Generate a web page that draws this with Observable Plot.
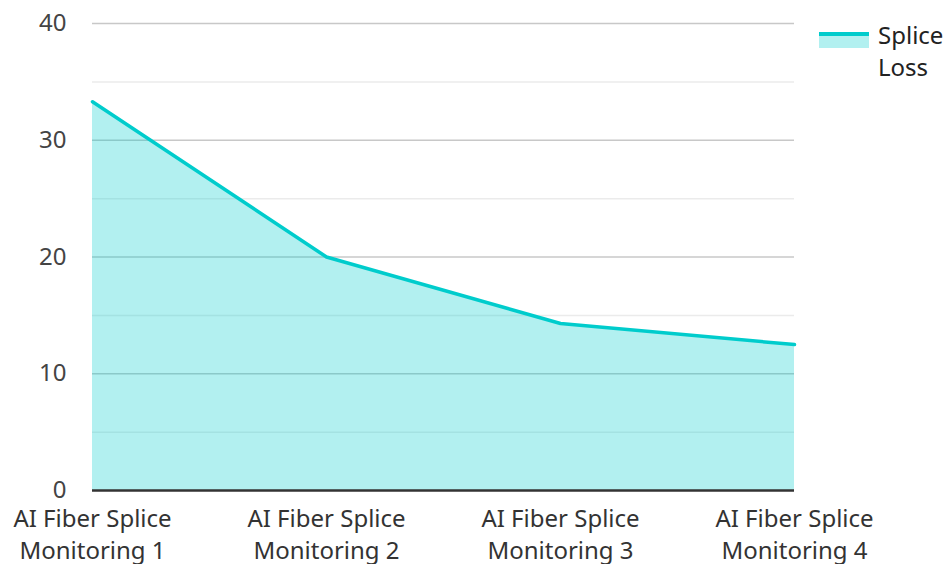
<!DOCTYPE html>
<html>
<head>
<meta charset="utf-8">
<script src="https://cdn.jsdelivr.net/npm/d3@7"></script>
<script src="https://cdn.jsdelivr.net/npm/@observablehq/plot@0.6"></script>
<style>
  html, body { margin: 0; padding: 0; background: #fff; }
  #wrap { position: relative; width: 948px; height: 564px; font-family: "Noto Sans", sans-serif; }
  #legend { position: absolute; left: 819px; top: 19px; display: flex; align-items: flex-start; }
  #legend .sw { width: 50px; height: 16px; margin-top: 13px; position: relative; }
  #legend .sw .fill { position: absolute; left: 0; top: 2px; width: 50px; height: 14px; background: rgba(0,204,204,0.3); }
  #legend .sw .ln { position: absolute; left: 0; top: 0; width: 50px; height: 4px; background: #00cccc; }
  #legend .lab { margin-left: 9px; font-size: 24px; line-height: 32px; color: #222; width: 70px; }
</style>
</head>
<body>
<div id="wrap">
  <div id="chart"></div>
  <div id="legend"><div class="sw"><div class="fill"></div><div class="ln"></div></div><div class="lab">Splice<br>Loss</div></div>
</div>
<script>
const categories = ["AI Fiber Splice Monitoring 1", "AI Fiber Splice Monitoring 2", "AI Fiber Splice Monitoring 3", "AI Fiber Splice Monitoring 4"];
const spliceLoss = [33.3, 20.0, 14.3, 12.5];
const yTicks = [0, 10, 20, 30, 40];
const yMinor = [5, 15, 25, 35];
const seriesName = "Splice Loss";

const data = categories.map((c, i) => ({cat: c, v: spliceLoss[i]}));
const wrapLabel = s => s.replace(/ (Monitoring)/, "\n$1");

const chart = Plot.plot({
  width: 948,
  height: 564,
  marginLeft: 92,
  marginRight: 154,
  marginTop: 23,
  marginBottom: 74,
  style: { fontFamily: "Noto Sans, sans-serif", background: "#fff", overflow: "visible" },
  x: { type: "point", domain: categories, padding: 0 },
  y: { domain: [0, 40] },
  marks: [
    Plot.ruleY(yMinor, { stroke: "#ebebeb", strokeWidth: 1.5 }),
    Plot.ruleY(yTicks.filter(d => d !== 0), { stroke: "#c8c8c8", strokeWidth: 1.5 }),
    Plot.areaY(data, { x: "cat", y: "v", fill: "#00cccc", fillOpacity: 0.3, curve: "linear" }),
    Plot.lineY(data, { x: "cat", y: "v", stroke: "#00cccc", strokeWidth: 3.5, curve: "linear" }),
    Plot.ruleY([0], { stroke: "#333", strokeWidth: 2.5 }),
    Plot.axisY({ ticks: yTicks, tickSize: 0, tickPadding: 26, fontSize: 24, fill: "#444", label: null }),
    Plot.axisX({ tickSize: 0, tickPadding: 14, fontSize: 24, fill: "#333", label: null, lineHeight: 1.333, tickFormat: wrapLabel })
  ]
});
document.getElementById("chart").appendChild(chart);
</script>
</body>
</html>
